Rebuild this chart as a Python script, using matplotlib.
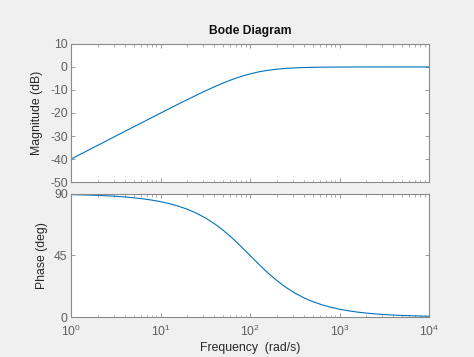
import matplotlib.pyplot as plt
from matplotlib.ticker import LogLocator, NullFormatter

# frequencies (rad/s) and the read-off magnitude / phase values
freq = [1, 1.26, 1.58, 2.0, 2.51, 3.16, 3.98, 5.01, 6.31, 7.94,
        10, 12.6, 15.8, 20.0, 25.1, 31.6, 39.8, 50.1, 63.1, 79.4,
        100, 126, 158, 200, 251, 316, 398, 501, 631, 794,
        1000, 1260, 1580, 2000, 2510, 3160, 3980, 5010, 6310, 7940, 10000]
mag_db = [-40.0, -38.0, -36.0, -34.0, -32.0, -30.0, -28.0, -26.0, -24.02, -22.03,
          -20.04, -18.07, -16.11, -14.17, -12.27, -10.41, -8.64, -6.97, -5.46, -4.12,
          -3.01, -2.12, -1.46, -0.97, -0.64, -0.41, -0.27, -0.17, -0.11, -0.07,
          -0.04, -0.03, -0.02, -0.01, -0.01, 0.0, 0.0, 0.0, 0.0, 0.0, 0.0]
phase_deg = [89.43, 89.28, 89.09, 88.86, 88.56, 88.19, 87.72, 87.13, 86.39, 85.46,
             84.29, 82.82, 80.99, 78.72, 75.90, 72.45, 68.30, 63.38, 57.75, 51.54,
             45.0, 38.46, 32.25, 26.62, 21.70, 17.55, 14.10, 11.28, 9.01, 7.18,
             5.71, 4.54, 3.61, 2.87, 2.28, 1.81, 1.44, 1.14, 0.91, 0.72, 0.57]

mag_ticks = [-50, -40, -30, -20, -10, 0, 10]
phase_ticks = [0, 45, 90]

plt.rcParams['font.family'] = ['Liberation Sans', 'DejaVu Sans']
plt.rcParams['axes.unicode_minus'] = False

line_col = '#0072BD'
axis_col = '#8a8a8a'
text_col = '#5f5f5f'

fig = plt.figure(figsize=(4.74, 3.57), dpi=100)
fig.patch.set_facecolor('#f0f0f0')

ax1 = fig.add_axes([0.150, 0.490, 0.755, 0.387])
ax2 = fig.add_axes([0.150, 0.112, 0.755, 0.345])

for ax in (ax1, ax2):
    ax.set_facecolor('white')
    ax.set_xscale('log')
    ax.set_xlim(1, 10000)
    for s in ax.spines.values():
        s.set_color(axis_col)
        s.set_linewidth(0.8)
    ax.tick_params(which='both', direction='in', top=True, right=True,
                   colors=axis_col, labelcolor=text_col, labelsize=8.7)
    ax.tick_params(which='major', length=3, width=0.6, pad=2.5)
    ax.tick_params(which='minor', length=1.8, width=0.5)
    ax.tick_params(axis='x', which='major', pad=5)
    ax.xaxis.set_major_locator(LogLocator(base=10, numticks=10))
    ax.xaxis.set_minor_locator(LogLocator(base=10, subs=range(2, 10), numticks=10))
    ax.xaxis.set_minor_formatter(NullFormatter())

ax1.plot(freq, mag_db, color=line_col, linewidth=0.8)
ax1.set_ylim(-50, 10)
ax1.set_yticks(mag_ticks)
ax1.set_xticklabels([])
ax1.set_ylabel('Magnitude (dB)', color='#262626', fontsize=8.8)
ax1.set_title('Bode Diagram', fontsize=8.7, fontweight='bold', color='#111111', pad=7)

ax2.plot(freq, phase_deg, color=line_col, linewidth=0.8)
ax2.set_ylim(0, 90)
ax2.set_yticks(phase_ticks)
ax2.set_ylabel('Phase (deg)', color='#262626', fontsize=8.8)
ax2.set_xlabel('Frequency  (rad/s)', color='#262626', fontsize=8.8, labelpad=2)

ax1.yaxis.set_label_coords(-0.078, 0.5)
ax2.yaxis.set_label_coords(-0.065, 0.5)

fig.savefig('out.png', dpi=100, facecolor=fig.get_facecolor())
